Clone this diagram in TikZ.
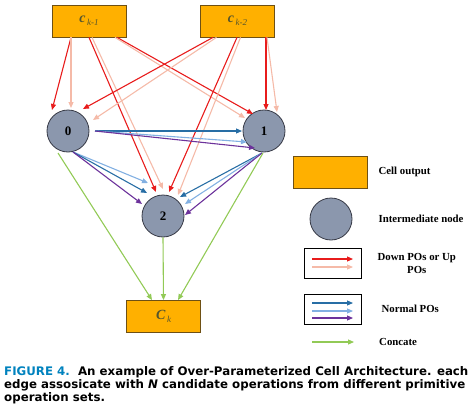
\documentclass[tikz,border=0pt]{standalone}
\usepackage{fontspec}
\setmainfont{Liberation Serif}
\newfontfamily\capfont{DejaVu Sans}
\usetikzlibrary{arrows.meta,positioning}

\definecolor{cellorange}{RGB}{255,176,0}
\definecolor{celledge}{RGB}{110,80,20}
\definecolor{cellink}{RGB}{85,85,45}
\definecolor{interfill}{RGB}{139,151,173}
\definecolor{interedge}{RGB}{55,58,70}
\definecolor{downred}{RGB}{232,28,28}
\definecolor{uppink}{RGB}{245,186,168}
\definecolor{normdark}{RGB}{40,110,165}
\definecolor{normlight}{RGB}{130,176,226}
\definecolor{normpurple}{RGB}{108,50,155}
\definecolor{concgreen}{RGB}{146,202,86}
\definecolor{capblue}{RGB}{0,130,190}

\tikzstyle{cell} = [rectangle, draw=celledge, fill=cellorange, line width=0.8pt, minimum width=74pt, minimum height=32pt, inner sep=0pt, text=cellink]
\tikzstyle{inter} = [circle, draw=interedge, fill=interfill, line width=0.8pt, minimum size=42pt, inner sep=0pt, font=\bfseries\fontsize{13}{13}\selectfont]
\tikzstyle{legbox} = [rectangle, draw=black, line width=0.9pt, minimum width=57pt, minimum height=30pt]
\tikzstyle{legtext} = [inner sep=0pt, align=center, font=\bfseries\fontsize{10.8}{13}\selectfont]
\tikzstyle{line} = [draw, line width=1.1pt, -{Triangle[length=6pt,width=5pt]}]

\newcommand{\celllabel}[2]{{\fontsize{14}{14}\selectfont\bfseries\itshape #1}\,\raisebox{-3pt}{\fontsize{9}{9}\selectfont\itshape #2}}

\begin{document}
\begin{tikzpicture}[x=1pt, y=-1pt]
    \useasboundingbox (0,0) rectangle (474,415);
    % Place nodes
    \node [cell] (ckm1) at (89,21) {\celllabel{c}{k-1}};
    \node [cell] (ckm2) at (237.5,21) {\celllabel{c}{k-2}};
    \node [inter] (n0) at (68,131) {0};
    \node [inter] (n1) at (264,131) {1};
    \node [inter] (n2) at (163,216) {2};
    \node [cell] (ck) at (163.5,316.5) {\celllabel{C}{k}};

    % Down POs or Up POs
    \path [line, downred] ([shift={(-18,0)}]ckm1.south) -- ([shift={(-16,-21)}]n0.center);
    \path [line, uppink] ([shift={(-18,0)}]ckm1.south) -- ([shift={(3,-23)}]n0.center);
    \path [line, downred] ([shift={(0,0)}]ckm1.south) -- ([shift={(-7,-24)}]n2.center);
    \path [line, uppink] ([shift={(3,0)}]ckm1.south) -- ([shift={(0,-27)}]n2.center);
    \path [line, downred] ([shift={(28,0)}]ckm1.south) -- ([shift={(-11,-17)}]n1.center);
    \path [line, uppink] ([shift={(26,0)}]ckm1.south) -- ([shift={(-19,-13)}]n1.center);

    \path [line, downred] ([shift={(-24.5,0)}]ckm2.south) -- ([shift={(15,-22)}]n0.center);
    \path [line, uppink] ([shift={(-21,0)}]ckm2.south) -- ([shift={(25,-11)}]n0.center);
    \path [line, downred] ([shift={(-0.5,0)}]ckm2.south) -- ([shift={(6,-24)}]n2.center);
    \path [line, uppink] ([shift={(3,0)}]ckm2.south) -- ([shift={(15,-21)}]n2.center);
    \path [line, downred] ([shift={(28.5,0)}]ckm2.south) -- ([shift={(2,-21)}]n1.center);
    \path [line, uppink] ([shift={(29.5,0)}]ckm2.south) -- ([shift={(13,-19)}]n1.center);

    % Normal POs
    \path [line, normdark] ([shift={(27,0)}]n0.center) -- ([shift={(-22,0)}]n1.center);
    \path [line, normlight] ([shift={(27,0)}]n0.center) -- ([shift={(-17,11)}]n1.center);
    \path [line, normpurple] ([shift={(27,0)}]n0.center) -- ([shift={(-9,17)}]n1.center);
    \path [line, normlight] ([shift={(5,21)}]n0.center) -- ([shift={(-15,-33)}]n2.center);
    \path [line, normdark] ([shift={(5,21)}]n0.center) -- ([shift={(-16,-23)}]n2.center);
    \path [line, normpurple] ([shift={(5,21)}]n0.center) -- ([shift={(-21,-12)}]n2.center);
    \path [line, normdark] ([shift={(-2,22)}]n1.center) -- ([shift={(17,-19)}]n2.center);
    \path [line, normlight] ([shift={(-2,22)}]n1.center) -- ([shift={(22,-12)}]n2.center);
    \path [line, normpurple] ([shift={(-2,22)}]n1.center) -- ([shift={(22,-1)}]n2.center);

    % Concate
    \path [line, concgreen] ([shift={(-10,22)}]n0.center) -- ([shift={(-11.5,0)}]ck.north);
    \path [line, concgreen] (n2.south) -- (ck.north);
    \path [line, concgreen] ([shift={(-1,22)}]n1.center) -- ([shift={(14.5,0)}]ck.north);

    % Legend
    \node [cell] (lgcell) at (330,172) {};
    \node [legtext, right=11pt of lgcell] (lgcelltext) {Cell output};
    \node [inter] (lginter) at (331,219) {};
    \node [legtext, right=26pt of lginter] (lgintertext) {Intermediate node};
    \node [legbox] (lgdown) at (332.5,263) {};
    \node [legtext, right=16pt of lgdown] (lgdowntext) {Down POs or Up\\POs};
    \node [legbox] (lgnorm) at (332.5,309) {};
    \node [legtext, right=20pt of lgnorm] (lgnormtext) {Normal POs};
    \coordinate (lgconcs) at (312,342);
    \coordinate (lgconce) at (354,342);
    \node [legtext, anchor=west] (lgconctext) at (379,342) {Concate};

    \path [line, downred] ([shift={(-20.5,-4)}]lgdown.center) -- ([shift={(20.5,-4)}]lgdown.center);
    \path [line, uppink] ([shift={(-20.5,4)}]lgdown.center) -- ([shift={(20.5,4)}]lgdown.center);
    \path [line, normdark] ([shift={(-20.5,-6)}]lgnorm.center) -- ([shift={(20.5,-6)}]lgnorm.center);
    \path [line, normlight] ([shift={(-20.5,2)}]lgnorm.center) -- ([shift={(20.5,2)}]lgnorm.center);
    \path [line, normpurple] ([shift={(-20.5,9)}]lgnorm.center) -- ([shift={(20.5,9)}]lgnorm.center);
    \path [line, concgreen] (lgconcs) -- (lgconce);

    % Caption
    \node [anchor=north west, inner sep=0pt, align=left, font=\capfont\bfseries\fontsize{11.8}{13}\selectfont] (caption) at (4,366)
        {{\color{capblue}FIGURE 4.}\ \ An example of Over-Parameterized Cell Architecture. each\\
         edge assosicate with \textit{N} candidate operations from different primitive\\
         operation sets.};
\end{tikzpicture}
\end{document}
